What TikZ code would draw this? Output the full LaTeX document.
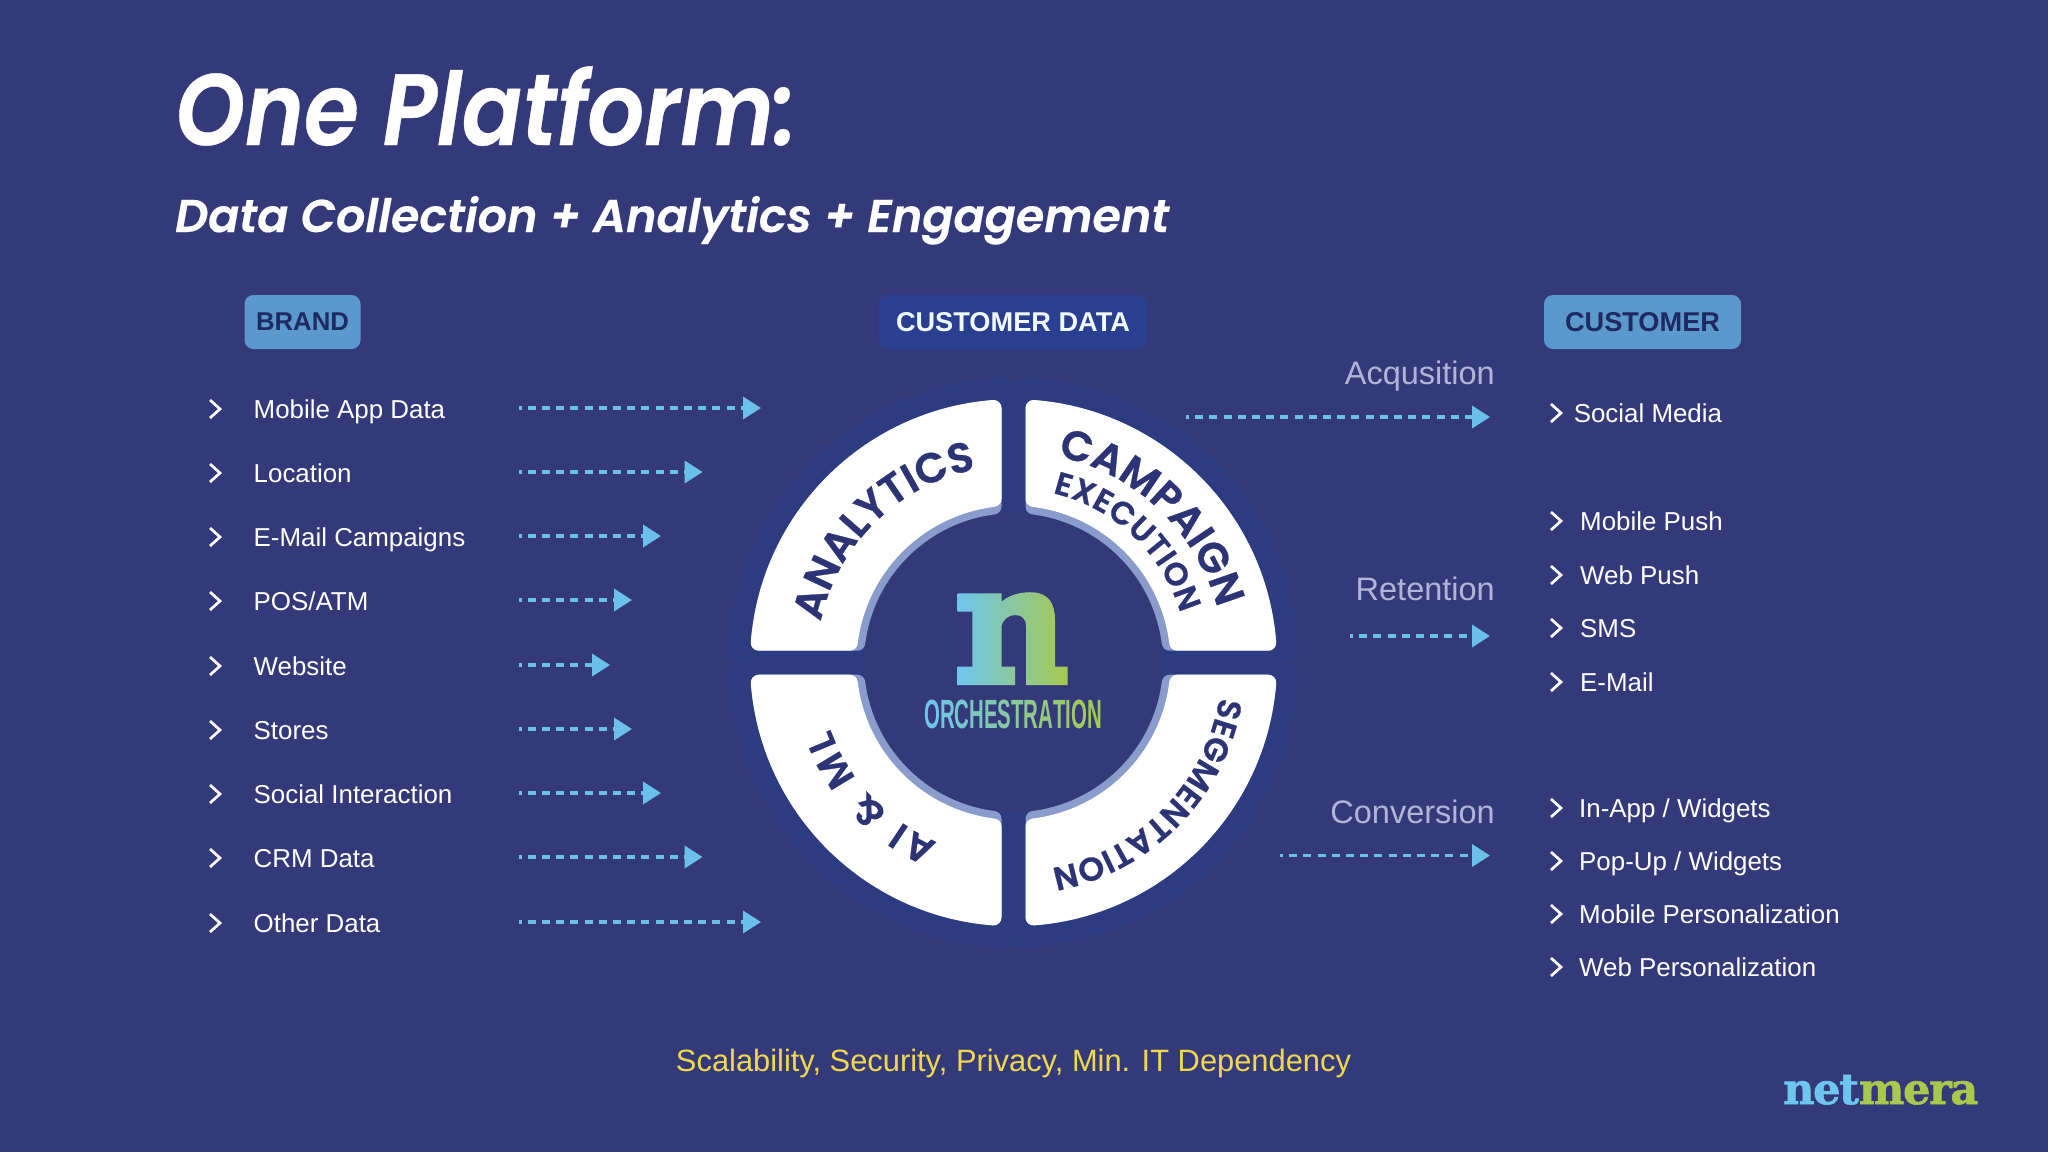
\documentclass[tikz,border=0pt]{standalone}
\usepackage{fontspec}
\usepackage{graphicx}
\usetikzlibrary{arrows.meta,decorations.text}
\setmainfont{Liberation Sans}
\newfontfamily\ttlfont[FakeBold=0.4]{Poppins SemiBold}
\newfontfamily\ringfont[FakeBold=0.6]{Poppins SemiBold}
\newfontfamily\slabfont[BoldFeatures={FakeBold=1.5,LetterSpace=-3}]{DejaVu Serif}
\definecolor{bgc}{HTML}{343A79}
\definecolor{ringc}{HTML}{2D3B80}
\definecolor{lilac}{HTML}{8A9CCB}
\definecolor{flowc}{HTML}{6BC0EA}
\definecolor{boxa}{HTML}{5B98CC}
\definecolor{boxb}{HTML}{2A3F8F}
\definecolor{inkc}{HTML}{1F2A63}
\definecolor{ringink}{HTML}{2C3475}
\definecolor{gA}{HTML}{6EC6EE}
\definecolor{gB}{HTML}{A6C94E}
\definecolor{muted}{HTML}{AEB6D8}
\definecolor{yell}{HTML}{F0D84E}
\newcommand\fs[1]{\fontsize{#1pt}{#1pt}\selectfont}
\newcommand\ringseg[5]{%
  \pgfmathsetmacro\dO{asin(#4/#2)}%
  \pgfmathsetmacro\dI{asin(#4/#3)}%
  \path[#5] ({#1+\dO}:#2) arc[start angle={#1+\dO},end angle={#1+90-\dO},radius=#2]
    -- ({#1+90-\dI}:#3) arc[start angle={#1+90-\dI},end angle={#1+\dI},radius=#3] -- cycle;}
\newcommand\ringtext[5]{% radius, from, to, size, text
  \path[decorate,decoration={text along path,text align=fit to path,
    text={|\ringfont\fs{#4}\color{ringink}|#5}}]
    (#2:#1) arc[start angle=#2,end angle=#3,radius=#1];}
\tikzset{
  flow/.style={flowc,line width=3.6pt,dash pattern=on 8pt off 6.2pt,dash phase=5pt,
    -{Triangle[length=.1pt,width=.1pt,sep=5pt] Triangle[length=18pt,width=22pt]}},
  chev/.style={draw=white,line width=2.7pt,line join=miter},
  item/.style={text=white,anchor=base west,inner sep=0pt,font=\fs{25.9}},
  stage/.style={text=muted,anchor=base east,inner sep=0pt,font=\fs{32.5}},
  tag/.style={rounded corners=9pt,minimum height=54pt,inner sep=0pt,font=\fs{29}\bfseries},
}
\begin{document}
\begin{tikzpicture}[x=1pt,y=-1pt]
\useasboundingbox (0,0) rectangle (2048,1152);
\fill[bgc] (0,0) rectangle (2048,1152);
% titles
\node[text=white,anchor=base west,inner sep=0pt] (title) at (175,145)
  {\resizebox{622pt}{79pt}{\ttlfont\itshape\fs{105}One Platform:}};
\node[text=white,anchor=base west,inner sep=0pt] (subtitle) at (175,232)
  {\resizebox{994pt}{!}{\ttlfont\itshape\fs{50}Data Collection + Analytics + Engagement}};
% tags
\node[tag,fill=boxa,text=inkc,minimum width=116pt] (brand) at (302.5,322) {\resizebox{93pt}{!}{BRAND}};
\node[tag,fill=boxb,text=white!90!flowc,minimum width=268pt] (cdata) at (1013,322) {\resizebox{234pt}{!}{CUSTOMER DATA}};
\node[tag,fill=boxa,text=inkc,minimum width=197pt] (cust) at (1642.5,322) {\resizebox{155pt}{!}{CUSTOMER}};
% left list
\foreach \i/\y/\t/\e in {1/409/Mobile App Data/761,2/473/Location/702.6,3/537/E-Mail Campaigns/661,
  4/601/POS{/}ATM/632,5/666/Website/610,6/730/Stores/632,7/794/Social Interaction/661,
  8/858/CRM Data/702.6,9/923/Other Data/761}{
  \draw[chev] (210,\y-9) -- ++(10,9) -- ++(-10,9);
  \node[item] (L\i) at (253.5,\y+9) {\t};
  \coordinate (Ls\i) at (518.5,\y-1);
  \coordinate (Le\i) at (\e,\y-1);
  \draw[flow] (Ls\i) -- (Le\i);
}
% right list
\foreach \i/\y/\x/\t in {1/413/1573.6/Social Media,2/521/1580/Mobile Push,3/575/1580/Web Push,4/628/1580/SMS,5/682/1580/E-Mail,
  6/808/1579/In-App {/} Widgets,7/861/1579/Pop-Up {/} Widgets,8/914/1579/Mobile Personalization,9/967/1579/Web Personalization}{
  \draw[chev] (1551,\y-9) -- ++(10,9) -- ++(-10,9);
  \node[item] (R\i) at (\x,\y+9) {\t};
}
% stages
\node[stage] (acq) at (1495,384) {Acqusition};
\node[stage] (ret) at (1495,600) {Retention};
\node[stage] (con) at (1495,823) {Conversion};
\coordinate (as) at (1186,417); \coordinate (ae) at (1490,417);
\coordinate (rs) at (1350,636); \coordinate (re) at (1490,636);
\coordinate (cs) at (1280,855.5); \coordinate (ce) at (1490,855.5);
\draw[flow] (as) -- (ae);
\draw[flow] (rs) -- (re);
\draw[flow] (cs) -- (ce);
% ring
\begin{scope}[shift={(1013.5,662.7)},x=1pt,y=1pt]
  \fill[ringc] (0,0) circle[radius=272];
  \foreach \a in {0,90,180,270}
    \ringseg{\a}{277}{200}{9}{fill=ringc,draw=ringc,line width=16pt,line join=round};
  \fill[bgc] (0,0) circle[radius=150];
  \foreach \a in {0,90,180,270}{
    \ringseg{\a}{255.5}{157.5}{20}{fill=lilac,draw=lilac,line width=16pt,line join=round};
    \ringseg{\a}{255.5}{165}{20}{fill=white,draw=white,line width=16pt,line join=round};
  }
  \ringtext{197}{168}{102}{42}{ANALYTICS}
  \ringtext{211}{78}{15}{42}{CAMPAIGN}
  \ringtext{174}{77}{16.5}{32}{EXECUTION}
  \ringtext{209}{-9.5}{-78.5}{33}{SEGMENTATION}
  \ringtext{195}{-113}{-160}{38}{AI {\&} ML}
\end{scope}
% logo
\begin{scope}[shift={(900,570)},x=0.33333pt,y=-0.33333pt]
  \shade[left color=gA,right color=gB] (173,70) -- (305,70) -- (305,95)
    .. controls (330,72) and (370,65) .. (400,67)
    .. controls (445,70) and (465,100) .. (465,150)
    -- (465,290) -- (503,290) -- (503,345) -- (378,345) -- (378,170)
    .. controls (378,145) and (365,135) .. (345,135)
    .. controls (325,135) and (310,150) .. (305,165)
    -- (305,290) -- (345,290) -- (345,345) -- (173,345) -- (173,290) -- (217,290)
    -- (217,125) -- (173,125) -- cycle;
\end{scope}
\node[anchor=base west,inner sep=0pt] (orch) at (924,728)
  {\resizebox{178pt}{28.5pt}{\bfseries
   \textcolor{gB!4!gA}{O}\textcolor{gB!12!gA}{R}\textcolor{gB!20!gA}{C}\textcolor{gB!28!gA}{H}%
   \textcolor{gB!36!gA}{E}\textcolor{gB!44!gA}{S}\textcolor{gB!52!gA}{T}\textcolor{gB!60!gA}{R}%
   \textcolor{gB!68!gA}{A}\textcolor{gB!76!gA}{T}\textcolor{gB!84!gA}{I}\textcolor{gB!90!gA}{O}\textcolor{gB!98!gA}{N}}};
% footer
\node[anchor=base,inner sep=0pt,text=yell] (foot) at (1013.5,1071)
  {\resizebox{675pt}{!}{\fs{31}Scalability, Security, Privacy, Min. IT Dependency}};
\node[anchor=base west,inner sep=0pt] (logo) at (1783,1104)
  {\resizebox{195pt}{!}{\slabfont\bfseries\fs{40}\textcolor{gA}{net}\textcolor{gB}{mera}}};
\end{tikzpicture}
\end{document}
